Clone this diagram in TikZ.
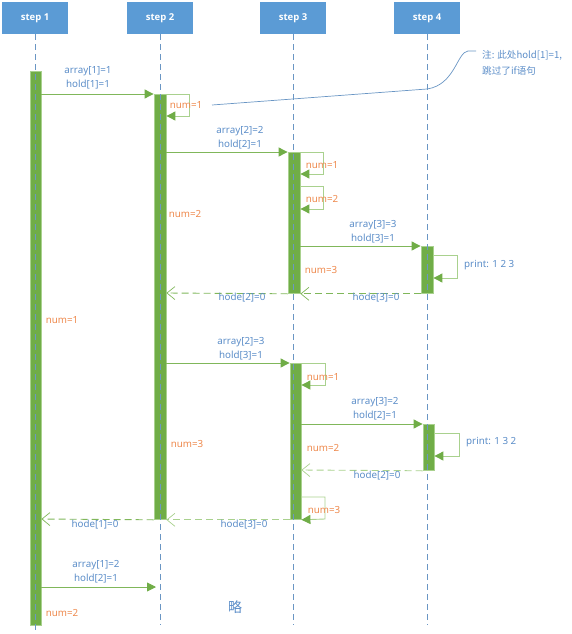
\documentclass[tikz,border=0pt]{standalone}
\usepackage{fontspec}
\setmainfont{Noto Sans}
\newfontfamily\cjk{Noto Sans CJK SC}
\newfontfamily\hdrfont{Open Sans}
\usetikzlibrary{arrows.meta}
\definecolor{hdrblue}{HTML}{5B9BD5}
\definecolor{lifeblue}{HTML}{6A96C4}
\definecolor{lblblue}{HTML}{5B8DC8}
\definecolor{lblorange}{HTML}{EE8A4E}
\definecolor{gdark}{HTML}{70AD47}
\definecolor{gmid}{HTML}{80B75A}
\definecolor{glight}{HTML}{A9D18E}
\begin{document}
\begin{tikzpicture}[x=1pt,y=-1pt,
  hdr/.style={fill=hdrblue,text=white,font=\hdrfont\bfseries\fontsize{9.5}{11}\selectfont,minimum width=66pt,minimum height=32pt,inner sep=0},
  life/.style={draw=lifeblue,dash pattern=on 6pt off 4pt,line width=0.8pt},
  bar/.style={fill=gdark,draw=glight,line width=0.8pt,inner sep=0,anchor=north},
  msg/.style={draw=gmid,line width=0.9pt,-{Triangle[length=9pt,width=9pt,color=gdark]}},
  selfloop/.style={draw=glight,line width=0.9pt,-{Triangle[length=9pt,width=9pt,color=gdark]}},
  ret/.style={draw=gmid,line width=0.9pt,dash pattern=on 7pt off 4pt,-{Straight Barb[length=8pt,width=13pt,line width=0.7pt]}},
  retl/.style={ret,draw=glight},
  lbl/.style={text=lblblue,font=\fontsize{9.8}{11}\selectfont,inner sep=0},
  num/.style={text=lblorange,font=\fontsize{9.8}{11}\selectfont,inner sep=0},
  note/.style={text=lblblue,font=\cjk\fontsize{9.6}{11}\selectfont,inner sep=0,anchor=west}
]
\useasboundingbox (0,0) rectangle (571,634);

% headers
\node[hdr] (h1) at (35,18) {step 1};
\node[hdr] (h2) at (160,18) {step 2};
\node[hdr] (h3) at (293,18) {step 3};
\node[hdr] (h4) at (427,18) {step 4};

% activation bars
\node[bar,minimum width=11pt,minimum height=554pt] (a1) at (35.5,71) {};
\node[bar,minimum width=12pt,minimum height=425pt] (a2) at (160,94) {};
\node[bar,minimum width=12pt,minimum height=141pt] (a3) at (294,152) {};
\node[bar,minimum width=12pt,minimum height=47pt] (a4) at (427,246) {};
\node[bar,minimum width=11pt,minimum height=156pt] (a5) at (295.5,363) {};
\node[bar,minimum width=11pt,minimum height=46pt] (a6) at (428.5,424) {};

% lifelines
\coordinate (e1) at (35,631);
\coordinate (e2) at (160,625);
\coordinate (e3) at (293,625);
\coordinate (e4) at (427,625);
\draw[life] (h1.south) -- (e1);
\draw[life] (h2.south) -- (e2);
\draw[life] (h3.south) -- (e3);
\draw[life] (h4.south) -- (e4);

% messages
\draw[msg] (a1.east |- 0,94) -- (a2.north west);
\node[lbl] at (88,71) {array[1]=1};
\node[lbl] at (88,85) {hold[1]=1};

\draw[selfloop] (a2.north east) -- (189,94) -- (189,116) -- (a2.east |- 0,116);
\node[num] at (186,105) {num=1};

\draw[msg] (a2.east |- 0,152) -- (a3.north west);
\node[lbl] at (240,131) {array[2]=2};
\node[lbl] at (240,145) {hold[2]=1};

\draw[selfloop] (a3.north east) -- (323,152) -- (323,174) -- (a3.east |- 0,174);
\node[num] at (322,165) {num=1};
\draw[selfloop] (a3.east |- 0,186) -- (323,186) -- (323,209) -- (a3.east |- 0,209);
\node[num] at (322,199) {num=2};

\node[num] at (185,214) {num=2};

\draw[msg] (a3.east |- 0,246) -- (a4.north west);
\node[lbl] at (373,225) {array[3]=3};
\node[lbl] at (373,239) {hold[3]=1};

\draw[selfloop] (a4.east |- 0,255) -- (457,255) -- (457,278) -- (a4.east |- 0,278);
\node[lbl,anchor=west] at (464,265) {print: 1 2 3};

\node[num] at (321,270) {num=3};

\draw[ret] (a4.south west) -- (a3.south east);
\node[lbl] at (376,298) {hode[3]=0};
\draw[ret] (a3.south west) -- (a2.east |- 0,293);
\node[lbl] at (242,298) {hode[2]=0};

\node[num] at (62,320) {num=1};

\draw[msg] (a2.east |- 0,363) -- (a5.north west);
\node[lbl] at (241,342) {array[2]=3};
\node[lbl] at (241,356) {hold[3]=1};

\draw[selfloop] (a5.north east) -- (325,363) -- (325,385) -- (a5.east |- 0,385);
\node[num] at (323,377) {num=1};

\draw[msg] (a5.east |- 0,424) -- (a6.north west);
\node[lbl] at (375,402) {array[3]=2};
\node[lbl] at (375,416) {hold[2]=1};

\draw[selfloop] (a6.east |- 0,433) -- (459,433) -- (459,456) -- (a6.east |- 0,456);
\node[lbl,anchor=west] at (466,442) {print: 1 3 2};

\node[num] at (187,444) {num=3};
\node[num] at (323,448) {num=2};

\draw[retl] (a6.south west) -- (a5.east |- 0,470);
\node[lbl] at (377,476) {hode[2]=0};

\draw[selfloop] (a5.east |- 0,497) -- (325,497) -- (325,519) -- (a5.south east);
\node[num] at (324,510) {num=3};

\draw[retl] (a5.south west) -- (a2.south east);
\node[lbl] at (244,525) {hode[3]=0};
\draw[ret] (a2.south west) -- (a1.east |- 0,519);
\node[lbl] at (95,525) {hode[1]=0};

\coordinate (t6) at (156,587);
\draw[msg] (a1.east |- 0,587) -- (t6);
\node[lbl] at (96,565) {array[1]=2};
\node[lbl] at (96,579) {hold[2]=1};

\node[num] at (62,613) {num=2};

\node[text=lblblue,font=\cjk\fontsize{14}{16}\selectfont,inner sep=0] (lue) at (235,607) {略};

% note callout
\coordinate (cs) at (212,105);
\coordinate (cm) at (427,89);
\coordinate (ce) at (476,51);
\draw[draw=lifeblue,line width=0.7pt] (cs) -- (cm) .. controls (455,85) and (457,52) .. (468,51) -- (ce);
\node[note] (n1) at (482,55) {注: 此处hold[1]=1,};
\node[note] (n2) at (482,71) {跳过了if语句};
\end{tikzpicture}
\end{document}
